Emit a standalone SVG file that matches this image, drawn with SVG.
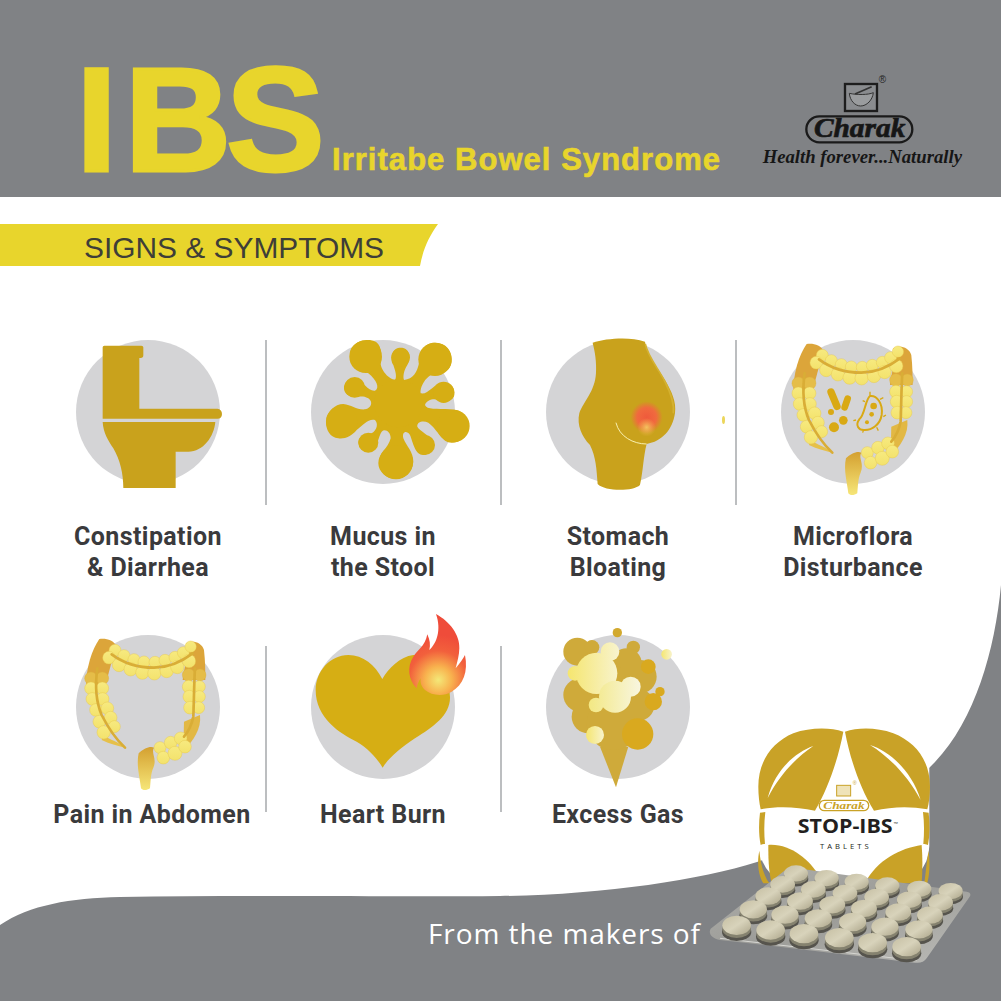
<svg xmlns="http://www.w3.org/2000/svg" xmlns:xlink="http://www.w3.org/1999/xlink" width="1001" height="1001" viewBox="0 0 1001 1001">
<style>
.bg{fill:#d4d4d6}
.div{stroke:#a7a9ac;stroke-width:1.5;fill:none}
.lbl{font-family:Roboto,"Liberation Sans",sans-serif;font-weight:700;font-size:25px;fill:#3a3a3c;text-anchor:middle;letter-spacing:.4px}
.seg{fill:url(#segG);stroke:#e6c548;stroke-width:1.2}
.sgd{fill:#e5bd48;stroke:#dcb03c;stroke-width:1.2}
.ink{font-family:"Liberation Serif",serif;font-weight:700;font-style:italic}
.strip{fill:none;stroke:#d9ad36;stroke-width:8;stroke-linecap:round;stroke-linejoin:round}
</style>
<defs>
<linearGradient id="colG" x1="0" y1="0" x2="1" y2="1"><stop offset="0" stop-color="#d9a53a"/><stop offset=".5" stop-color="#e6bf45"/><stop offset="1" stop-color="#e8c94f"/></linearGradient>
<linearGradient id="segG" x1="0" y1="0" x2="0" y2="1"><stop offset="0" stop-color="#f7ea80"/><stop offset="1" stop-color="#f3e26c"/></linearGradient>
<linearGradient id="recG" x1="0" y1="0" x2="0" y2="1"><stop offset="0" stop-color="#d4a030"/><stop offset="1" stop-color="#f6e678"/></linearGradient>
<radialGradient id="fireG" gradientUnits="userSpaceOnUse" cx="415" cy="225" r="135"><stop offset="0" stop-color="#f4e878"/><stop offset=".3" stop-color="#f8b24e"/><stop offset=".65" stop-color="#f2603c"/><stop offset="1" stop-color="#ef4c3a"/></radialGradient>
<radialGradient id="glowG" gradientUnits="userSpaceOnUse" cx="1040" cy="262" r="48"><stop offset="0" stop-color="#ef5a3c"/><stop offset=".6" stop-color="#f06a3e"/><stop offset="1" stop-color="#f06a3e" stop-opacity="0"/></radialGradient>
<radialGradient id="glow2G" gradientUnits="userSpaceOnUse" cx="1040" cy="292" r="28"><stop offset="0" stop-color="#f3c25e"/><stop offset="1" stop-color="#f3b050" stop-opacity="0"/></radialGradient>
<linearGradient id="pale1" gradientUnits="userSpaceOnUse" x1="115" y1="0" x2="265" y2="0"><stop offset="0" stop-color="#f5e670"/><stop offset="1" stop-color="#f8f3cc"/></linearGradient>
<linearGradient id="pale2" gradientUnits="userSpaceOnUse" x1="178" y1="0" x2="332" y2="0"><stop offset="0" stop-color="#f3e884"/><stop offset="1" stop-color="#f8f6e0"/></linearGradient>
<linearGradient id="pale3" x1="0" y1="0" x2="1" y2="0"><stop offset="0" stop-color="#f5e670"/><stop offset="1" stop-color="#f8f3cc"/></linearGradient>
<linearGradient id="tabG" x1="0" y1="0" x2="1" y2="1"><stop offset="0" stop-color="#c6bfa3"/><stop offset=".5" stop-color="#d8d3bb"/><stop offset="1" stop-color="#aca58a"/></linearGradient>
<linearGradient id="blG" x1="0" y1="0" x2="1" y2="1"><stop offset="0" stop-color="#b0b0ac"/><stop offset=".5" stop-color="#9c9c98"/><stop offset="1" stop-color="#bcbcb8"/></linearGradient>
<g id="tab"><ellipse cx="0" cy="18" rx="44" ry="27" fill="#56544d"/><ellipse cx="0" cy="9" rx="43" ry="27" fill="#85826f"/><ellipse cx="0" cy="-2" rx="43" ry="29" fill="url(#tabG)"/></g>
<g id="colon">
<path d="M195,368C160,345 130,320 112,275C95,220 100,130 130,62C170,110 230,135 282,135C330,135 370,110 405,70C425,110 415,200 410,270C395,330 350,360 290,388" fill="none" stroke="url(#colG)" stroke-width="52" stroke-linejoin="round" opacity="0"/>
<path d="M118,42C135,38 162,45 168,62L135,185L78,185C78,130 95,75 118,42Z" fill="#dca53a"/>
<path d="M378,55C395,45 425,50 432,75C436,110 436,140 436,165L368,165C372,130 385,100 378,55Z" fill="#dca53a"/>
<path d="M130,330C150,345 175,350 200,370C175,362 150,358 125,345Z" fill="#e6c04a"/>
<path d="M372,290L420,270C425,310 400,350 370,375Z" fill="#e2b844"/>
<g>
<circle class="sgd" cx="93" cy="160" r="19"/><circle class="sgd" cx="127" cy="160" r="19"/><circle class="seg" cx="93" cy="190" r="19"/><circle class="seg" cx="127" cy="190" r="19"/><circle class="seg" cx="97" cy="222" r="19"/><circle class="seg" cx="128" cy="222" r="19"/><circle class="seg" cx="108" cy="255" r="19"/><circle class="seg" cx="142" cy="250" r="19"/><circle class="seg" cx="118" cy="290" r="19"/><circle class="seg" cx="152" cy="278" r="19"/><circle class="seg" cx="131" cy="322" r="20"/><circle class="seg" cx="163" cy="305" r="18"/>
<circle class="seg" cx="165" cy="76" r="18"/><circle class="seg" cx="192" cy="92" r="18"/><circle class="seg" cx="222" cy="104" r="18"/><circle class="seg" cx="252" cy="111" r="18"/><circle class="seg" cx="285" cy="112" r="18"/><circle class="seg" cx="315" cy="106" r="18"/><circle class="seg" cx="345" cy="97" r="18"/><circle class="seg" cx="370" cy="83" r="18"/><circle class="seg" cx="392" cy="65" r="17"/>
<circle class="seg" cx="147" cy="98" r="19"/><circle class="seg" cx="177" cy="120" r="20"/><circle class="seg" cx="212" cy="133" r="20"/><circle class="seg" cx="247" cy="143" r="20"/><circle class="seg" cx="283" cy="145" r="20"/><circle class="seg" cx="320" cy="138" r="20"/><circle class="seg" cx="352" cy="126" r="20"/><circle class="seg" cx="387" cy="108" r="20"/>
<circle class="sgd" cx="386" cy="150" r="19"/><circle class="sgd" cx="420" cy="150" r="18"/><circle class="seg" cx="386" cy="185" r="19"/><circle class="seg" cx="418" cy="185" r="18"/><circle class="seg" cx="388" cy="215" r="19"/><circle class="seg" cx="418" cy="215" r="18"/><circle class="seg" cx="390" cy="248" r="19"/><circle class="seg" cx="416" cy="248" r="18"/>
<circle class="seg" cx="300" cy="368" r="18"/><circle class="seg" cx="332" cy="353" r="19"/><circle class="seg" cx="362" cy="340" r="19"/><circle class="seg" cx="310" cy="398" r="19"/><circle class="seg" cx="345" cy="385" r="21"/><circle class="seg" cx="375" cy="365" r="19"/>
</g>
<path class="strip" d="M112,130C105,180 108,230 125,270C140,300 160,335 195,368"/>
<path class="strip" d="M155,88C195,118 240,128 282,128C325,128 365,110 398,85"/>
<path class="strip" d="M405,130C402,180 402,230 400,275C395,300 385,320 372,335"/>
<path d="M236,385C250,370 272,362 282,368C272,385 292,400 280,428C272,445 272,470 270,490C260,497 248,497 243,490C240,460 228,420 236,385Z" fill="url(#recG)"/>
</g>
</defs>

<rect width="1001" height="1001" fill="#fff"/>
<path id="swoosh" d="M0,925C30,905 70,898 120,897C250,895 400,897 500,896C600,895 700,880 757,862C830,840 890,810 935,762C975,720 995,650 1001,585L1001,1001L0,1001Z" fill="#808285"/>
<rect id="header" width="1001" height="197" fill="#808285"/>

<g id="title">
<text x="76 124.500 226" y="170.500" font-family="Liberation Sans, sans-serif" font-weight="700" font-size="148" fill="#e8d52c" stroke="#e8d52c" stroke-width="3">IBS</text>
<text x="332" y="170" font-family="Liberation Sans, sans-serif" font-weight="700" font-size="31" fill="#e8d52c" stroke="#e8d52c" stroke-width=".6" textLength="388">Irritabe Bowel Syndrome</text>
</g>

<g id="logo" transform="translate(740,60) scale(.3333)">
<rect x="315" y="72" width="96" height="81" fill="#8a8c8f" stroke="#1d1d1d" stroke-width="7"/>
<path d="M328,100C350,105 385,105 400,98C398,120 380,138 362,138C345,138 330,122 328,100Z" fill="#9a9c9e" stroke="#333" stroke-width="3"/>
<path d="M345,102L395,80" stroke="#333" stroke-width="5" fill="none"/>
<text x="427" y="68" font-family="Liberation Sans, sans-serif" font-size="30" fill="#222" text-anchor="middle">®</text>
<rect x="199" y="169" width="318" height="78" rx="39" fill="none" stroke="#1a1a1a" stroke-width="7"/>
<text class="ink" x="222" y="232" font-size="82" fill="#161616" stroke="#161616" stroke-width="2" textLength="274" lengthAdjust="spacingAndGlyphs">Charak</text>
<text class="ink" x="68" y="308" font-size="54" fill="#161616" textLength="598" lengthAdjust="spacingAndGlyphs">Health forever...Naturally</text>
</g>

<g id="banner">
<path d="M0,224L438,224C428,238 423,250 420,266L0,266Z" fill="#e8d52c"/>
<text x="84" y="258" font-family="Liberation Sans, sans-serif" font-size="30" fill="#3e3e38" textLength="300" lengthAdjust="spacingAndGlyphs">SIGNS &amp; SYMPTOMS</text>
</g>

<g id="dividers">
<path class="div" d="M266,340V505M501,340V505M736,340V505M266,646V812M501,646V812"/>
</g>

<g id="constipation">
<circle class="bg" cx="148" cy="412" r="72"/>
<g transform="translate(60,330) scale(.3333)" fill="#c9a21c">
<path d="M128,52Q128,47 133,47L244,47Q250,47 250,52L250,76Q250,84 242,84L238,84L238,236L472,236Q486,238 486,252Q486,266 472,266L128,266Z"/>
<path d="M128,276L466,276C462,320 430,365 385,365L347,365L347,474L190,474C190,430 180,390 160,355C145,332 130,310 128,276Z"/>
</g>
<text class="lbl" x="148" y="545">Constipation</text>
<text class="lbl" x="148" y="576">&amp; Diarrhea</text>
</g>

<g id="mucus">
<circle class="bg" cx="383" cy="412" r="72"/>
<g transform="translate(300,330) scale(.3333)" fill="#d6ae14">
<path d="M150,75C150,40 185,28 210,30C240,32 247,60 242,90C238,115 262,145 285,150C292,140 285,120 280,105C268,85 275,53 302,53C330,53 335,85 322,105C312,120 308,140 312,150C340,148 352,125 357,100C360,70 370,38 405,38C440,38 458,65 455,95C452,125 425,130 410,130C385,130 360,165 362,190C385,195 400,160 430,158C455,158 465,175 463,195C460,215 430,215 415,210C400,205 380,210 375,225C380,240 410,235 450,238C490,238 508,265 507,290C505,320 480,338 455,338C425,338 415,300 385,278C370,270 350,275 352,290C360,305 385,310 400,340C405,360 385,375 370,375C345,375 340,340 330,315C320,300 305,305 310,325C320,350 340,365 340,395C338,430 310,447 285,447C260,447 235,425 235,400C235,370 265,355 272,325C272,305 255,295 245,305C235,320 235,345 215,362C195,372 175,355 175,335C178,315 200,315 215,310C232,300 235,280 225,270C205,265 190,285 170,300C155,318 135,328 115,325C90,322 78,300 78,275C80,245 105,222 130,222C155,225 170,240 195,238C215,235 220,215 205,205C190,197 185,200 165,200C145,200 130,190 132,170C135,150 155,142 170,148C190,155 205,185 225,182C240,175 230,150 205,130C185,120 150,115 150,75Z"/>
<circle cx="295" cy="220" r="72"/><circle cx="197" cy="80" r="49"/><circle cx="405" cy="88" r="50"/><circle cx="125" cy="275" r="47"/><circle cx="460" cy="288" r="49"/><circle cx="288" cy="397" r="51"/><circle cx="302" cy="82" r="28"/><circle cx="431" cy="187" r="32"/><circle cx="164" cy="172" r="31"/><circle cx="205" cy="338" r="30"/><circle cx="375" cy="345" r="30"/>
</g>
<text class="lbl" x="383" y="545">Mucus in</text>
<text class="lbl" x="383" y="576">the Stool</text>
</g>

<g id="bloating">
<circle class="bg" cx="618" cy="412" r="72"/>
<g transform="translate(300,330) scale(.3333)">
<path fill="#c9a21c" d="M878,38C920,25 990,20 1035,35C1040,70 1070,110 1095,150C1115,185 1130,215 1125,250C1118,300 1085,335 1040,342C1030,380 1030,420 1020,465C1000,485 915,485 893,462C890,420 888,380 870,345C845,320 830,285 838,250C850,215 885,185 888,130C890,95 885,65 878,38Z"/>
<path fill="none" stroke="#d4b130" stroke-width="5" d="M1036,42C1043,78 1073,113 1094,153C1112,188 1124,220 1120,250"/>
<circle cx="1040" cy="262" r="48" fill="url(#glowG)"/>
<circle cx="1040" cy="292" r="28" fill="url(#glow2G)"/>
<path d="M948,278C958,320 1000,342 1040,342" fill="none" stroke="#f8f0b0" stroke-width="3"/>
</g>
<text class="lbl" x="618" y="545">Stomach</text>
<text class="lbl" x="618" y="576">Bloating</text>
</g>

<ellipse id="speck" cx="723.500" cy="420" rx="1.500" ry="4" fill="#ecd65a"/>

<g id="microflora">
<circle class="bg" cx="853" cy="412" r="72"/>
<use xlink:href="#colon" href="#colon" transform="translate(767.300,330) scale(.3333)"/>
<g transform="translate(770,330) scale(.3333)">
<path d="M183,186L201,229" stroke="#d9a914" stroke-width="22" stroke-linecap="round" fill="none"/>
<path d="M233,206L224,232" stroke="#d9a914" stroke-width="20" stroke-linecap="round" fill="none"/>
<circle cx="183" cy="246" r="9" fill="#d9a914"/><circle cx="220" cy="271" r="13" fill="#d9a914"/><circle cx="192" cy="292" r="15" fill="#d9a914"/>
<path d="M300,198C320,195 340,220 335,255C330,285 305,300 285,300C265,302 255,285 268,268C285,255 285,210 300,198Z" fill="none" stroke="#d9a914" stroke-width="6"/>
<path d="M300,196V185M330,208L340,203M340,260L348,255M320,292L325,302M280,302L278,308M258,270L250,272M285,215L278,212" stroke="#d9a914" stroke-width="4" fill="none"/>
<circle cx="311" cy="228" r="10" fill="#d9a914"/><circle cx="305" cy="253" r="7" fill="#d9a914"/><circle cx="291" cy="277" r="6" fill="#d9a914"/>
</g>
<text class="lbl" x="853" y="545">Microflora</text>
<text class="lbl" x="853" y="576">Disturbance</text>
</g>

<g id="pain">
<circle class="bg" cx="148" cy="707" r="72"/>
<use xlink:href="#colon" href="#colon" transform="translate(60,625) scale(.3333)"/>
<text class="lbl" x="152" y="823">Pain in Abdomen</text>
</g>

<g id="heartburn">
<circle class="bg" cx="383" cy="707" r="72"/>
<g transform="translate(300,605) scale(.3333)">
<path fill="#d6ae14" d="M247,222C225,180 190,150 145,150C90,150 47,200 47,255C47,340 120,385 170,410C205,430 235,465 248,488C265,460 300,430 345,400C400,365 452,330 450,275C448,200 400,150 340,150C300,155 265,190 247,222Z"/>
<path fill="url(#fireG)" d="M408,27C450,50 480,90 478,130C478,150 472,170 467,190C480,175 490,160 495,150C505,200 490,240 455,260C430,275 395,272 375,255C365,245 360,235 362,220C355,230 352,240 350,250C325,225 320,185 340,155C352,135 375,125 382,88C390,105 392,120 388,135C410,115 425,75 408,27Z"/>
</g>
<text class="lbl" x="383" y="823">Heart Burn</text>
</g>

<g id="gas">
<circle class="bg" cx="618" cy="707" r="72"/>
<g transform="translate(530,610) scale(.3333)">
<g fill="#cfaa3a">
<path d="M210,410L258,532L295,410Z"/>
<circle cx="142" cy="125" r="42"/><circle cx="186" cy="112" r="22"/><circle cx="310" cy="112" r="20"/>
<circle cx="150" cy="255" r="50"/><circle cx="175" cy="320" r="50"/><circle cx="250" cy="340" r="80"/><circle cx="330" cy="200" r="50"/><circle cx="325" cy="285" r="48"/><circle cx="290" cy="160" r="45"/><circle cx="220" cy="220" r="70"/>
</g>
<circle cx="262" cy="68" r="14" fill="#d2a92e"/>
<g fill="#d9a91f"><circle cx="323" cy="372" r="47"/><circle cx="355" cy="170" r="22"/><circle cx="370" cy="275" r="26"/><circle cx="390" cy="245" r="14"/></g>
<g fill="url(#pale1)"><circle cx="135" cy="190" r="22"/><circle cx="200" cy="190" r="62"/><circle cx="240" cy="125" r="28"/></g>
<g fill="url(#pale2)"><circle cx="198" cy="285" r="22"/><circle cx="255" cy="260" r="48"/><circle cx="302" cy="230" r="30"/></g>
<circle cx="195" cy="375" r="27" fill="url(#pale3)"/><circle cx="410" cy="133" r="16" fill="url(#pale3)"/>
</g>
<text class="lbl" x="618" y="823">Excess Gas</text>
</g>

<text id="makers" x="428" y="944" font-family="Open Sans, Liberation Sans, sans-serif" font-size="28" fill="#fff" textLength="272">From the makers of</text>

<g id="product" transform="translate(700,720) scale(.3333)">
<rect x="178" y="28" width="510" height="470" rx="120" fill="#fff"/>
<g fill="#c9a227">
<path d="M430,35C390,22 330,22 280,40C220,65 175,120 175,200C175,225 178,250 182,268C230,258 290,260 345,272C385,205 415,115 430,35Z"/>
<path d="M435,35C475,22 530,22 580,40C645,65 690,120 690,200C690,225 687,250 682,268C630,258 575,260 522,272C480,205 450,115 435,35Z"/>
<path d="M180,278C176,310 176,345 182,375C188,372 192,372 195,372C192,340 192,310 196,276Z"/>
<path d="M686,278C690,310 690,345 684,375C678,372 674,372 670,372C673,340 673,310 669,276Z"/>
<path d="M205,375C270,370 330,420 358,470L300,500L215,490C205,450 205,410 205,375Z"/>
<path d="M178,392C182,430 190,465 208,490L190,490C172,460 172,420 178,392Z"/>
<path d="M665,375C600,385 530,420 495,490L665,490C668,450 668,410 665,375Z"/>
<path d="M686,392C690,430 690,465 680,495L672,495C678,460 680,420 686,392Z"/>
</g>
<path d="M340,78C285,98 225,150 203,235C235,170 285,115 340,78Z" fill="#fff"/>
<path d="M510,75C565,92 635,150 662,240C625,170 570,112 510,75Z" fill="#fff"/>
<rect x="410" y="196" width="42" height="32" fill="#efe3b8" stroke="#c9a227" stroke-width="3"/>
<text x="464" y="194" font-family="Liberation Sans, sans-serif" font-size="16" fill="#c9a227" text-anchor="middle">®</text>
<rect x="358" y="241" width="148" height="31" rx="15" fill="none" stroke="#c9a227" stroke-width="4"/>
<text class="ink" x="370" y="267" font-size="30" fill="#c9a227" textLength="124" lengthAdjust="spacingAndGlyphs">Charak</text>
<text x="293" y="340" font-family="Open Sans, Liberation Sans, sans-serif" font-weight="700" font-size="56" fill="#231f20" textLength="285" lengthAdjust="spacingAndGlyphs">STOP-IBS</text>
<text x="580" y="316" font-family="Liberation Sans, sans-serif" font-size="14" fill="#231f20">™</text>
<text x="360" y="388" font-family="Open Sans, Liberation Sans, sans-serif" font-size="23" fill="#231f20" textLength="146">TABLETS</text>
<path d="M260,447C265,442 275,442 285,444L800,515C812,517 814,524 808,532L680,715C672,727 660,730 645,728L60,660C35,655 24,640 32,626Z" fill="url(#blG)"/>
<path d="M60,655L650,722" stroke="#d6d6d2" stroke-width="3" fill="none"/>
<g>
<use href="#tab" xlink:href="#tab" transform="translate(288,462) scale(.84)"/><use href="#tab" xlink:href="#tab" transform="translate(380,476) scale(.84)"/><use href="#tab" xlink:href="#tab" transform="translate(470,487) scale(.84)"/><use href="#tab" xlink:href="#tab" transform="translate(562,498) scale(.84)"/><use href="#tab" xlink:href="#tab" transform="translate(658,508) scale(.84)"/><use href="#tab" xlink:href="#tab" transform="translate(752,515) scale(.84)"/>
<use href="#tab" xlink:href="#tab" transform="translate(248,495) scale(.86)"/><use href="#tab" xlink:href="#tab" transform="translate(340,510) scale(.86)"/><use href="#tab" xlink:href="#tab" transform="translate(435,521) scale(.86)"/><use href="#tab" xlink:href="#tab" transform="translate(530,533) scale(.86)"/><use href="#tab" xlink:href="#tab" transform="translate(628,541) scale(.86)"/><use href="#tab" xlink:href="#tab" transform="translate(722,549) scale(.86)"/>
<use href="#tab" xlink:href="#tab" transform="translate(205,530) scale(.9)"/><use href="#tab" xlink:href="#tab" transform="translate(300,545) scale(.9)"/><use href="#tab" xlink:href="#tab" transform="translate(397,556) scale(.9)"/><use href="#tab" xlink:href="#tab" transform="translate(492,567) scale(.9)"/><use href="#tab" xlink:href="#tab" transform="translate(595,578) scale(.9)"/><use href="#tab" xlink:href="#tab" transform="translate(690,587) scale(.9)"/>
<use href="#tab" xlink:href="#tab" transform="translate(160,570) scale(.95)"/><use href="#tab" xlink:href="#tab" transform="translate(255,586) scale(.95)"/><use href="#tab" xlink:href="#tab" transform="translate(355,597) scale(.95)"/><use href="#tab" xlink:href="#tab" transform="translate(458,608) scale(.95)"/><use href="#tab" xlink:href="#tab" transform="translate(555,622) scale(.95)"/><use href="#tab" xlink:href="#tab" transform="translate(657,630) scale(.95)"/>
<use href="#tab" xlink:href="#tab" transform="translate(110,618)"/><use href="#tab" xlink:href="#tab" transform="translate(212,632)"/><use href="#tab" xlink:href="#tab" transform="translate(312,643)"/><use href="#tab" xlink:href="#tab" transform="translate(418,655)"/><use href="#tab" xlink:href="#tab" transform="translate(518,670)"/><use href="#tab" xlink:href="#tab" transform="translate(620,682)"/>
</g>
</g>
</svg>
